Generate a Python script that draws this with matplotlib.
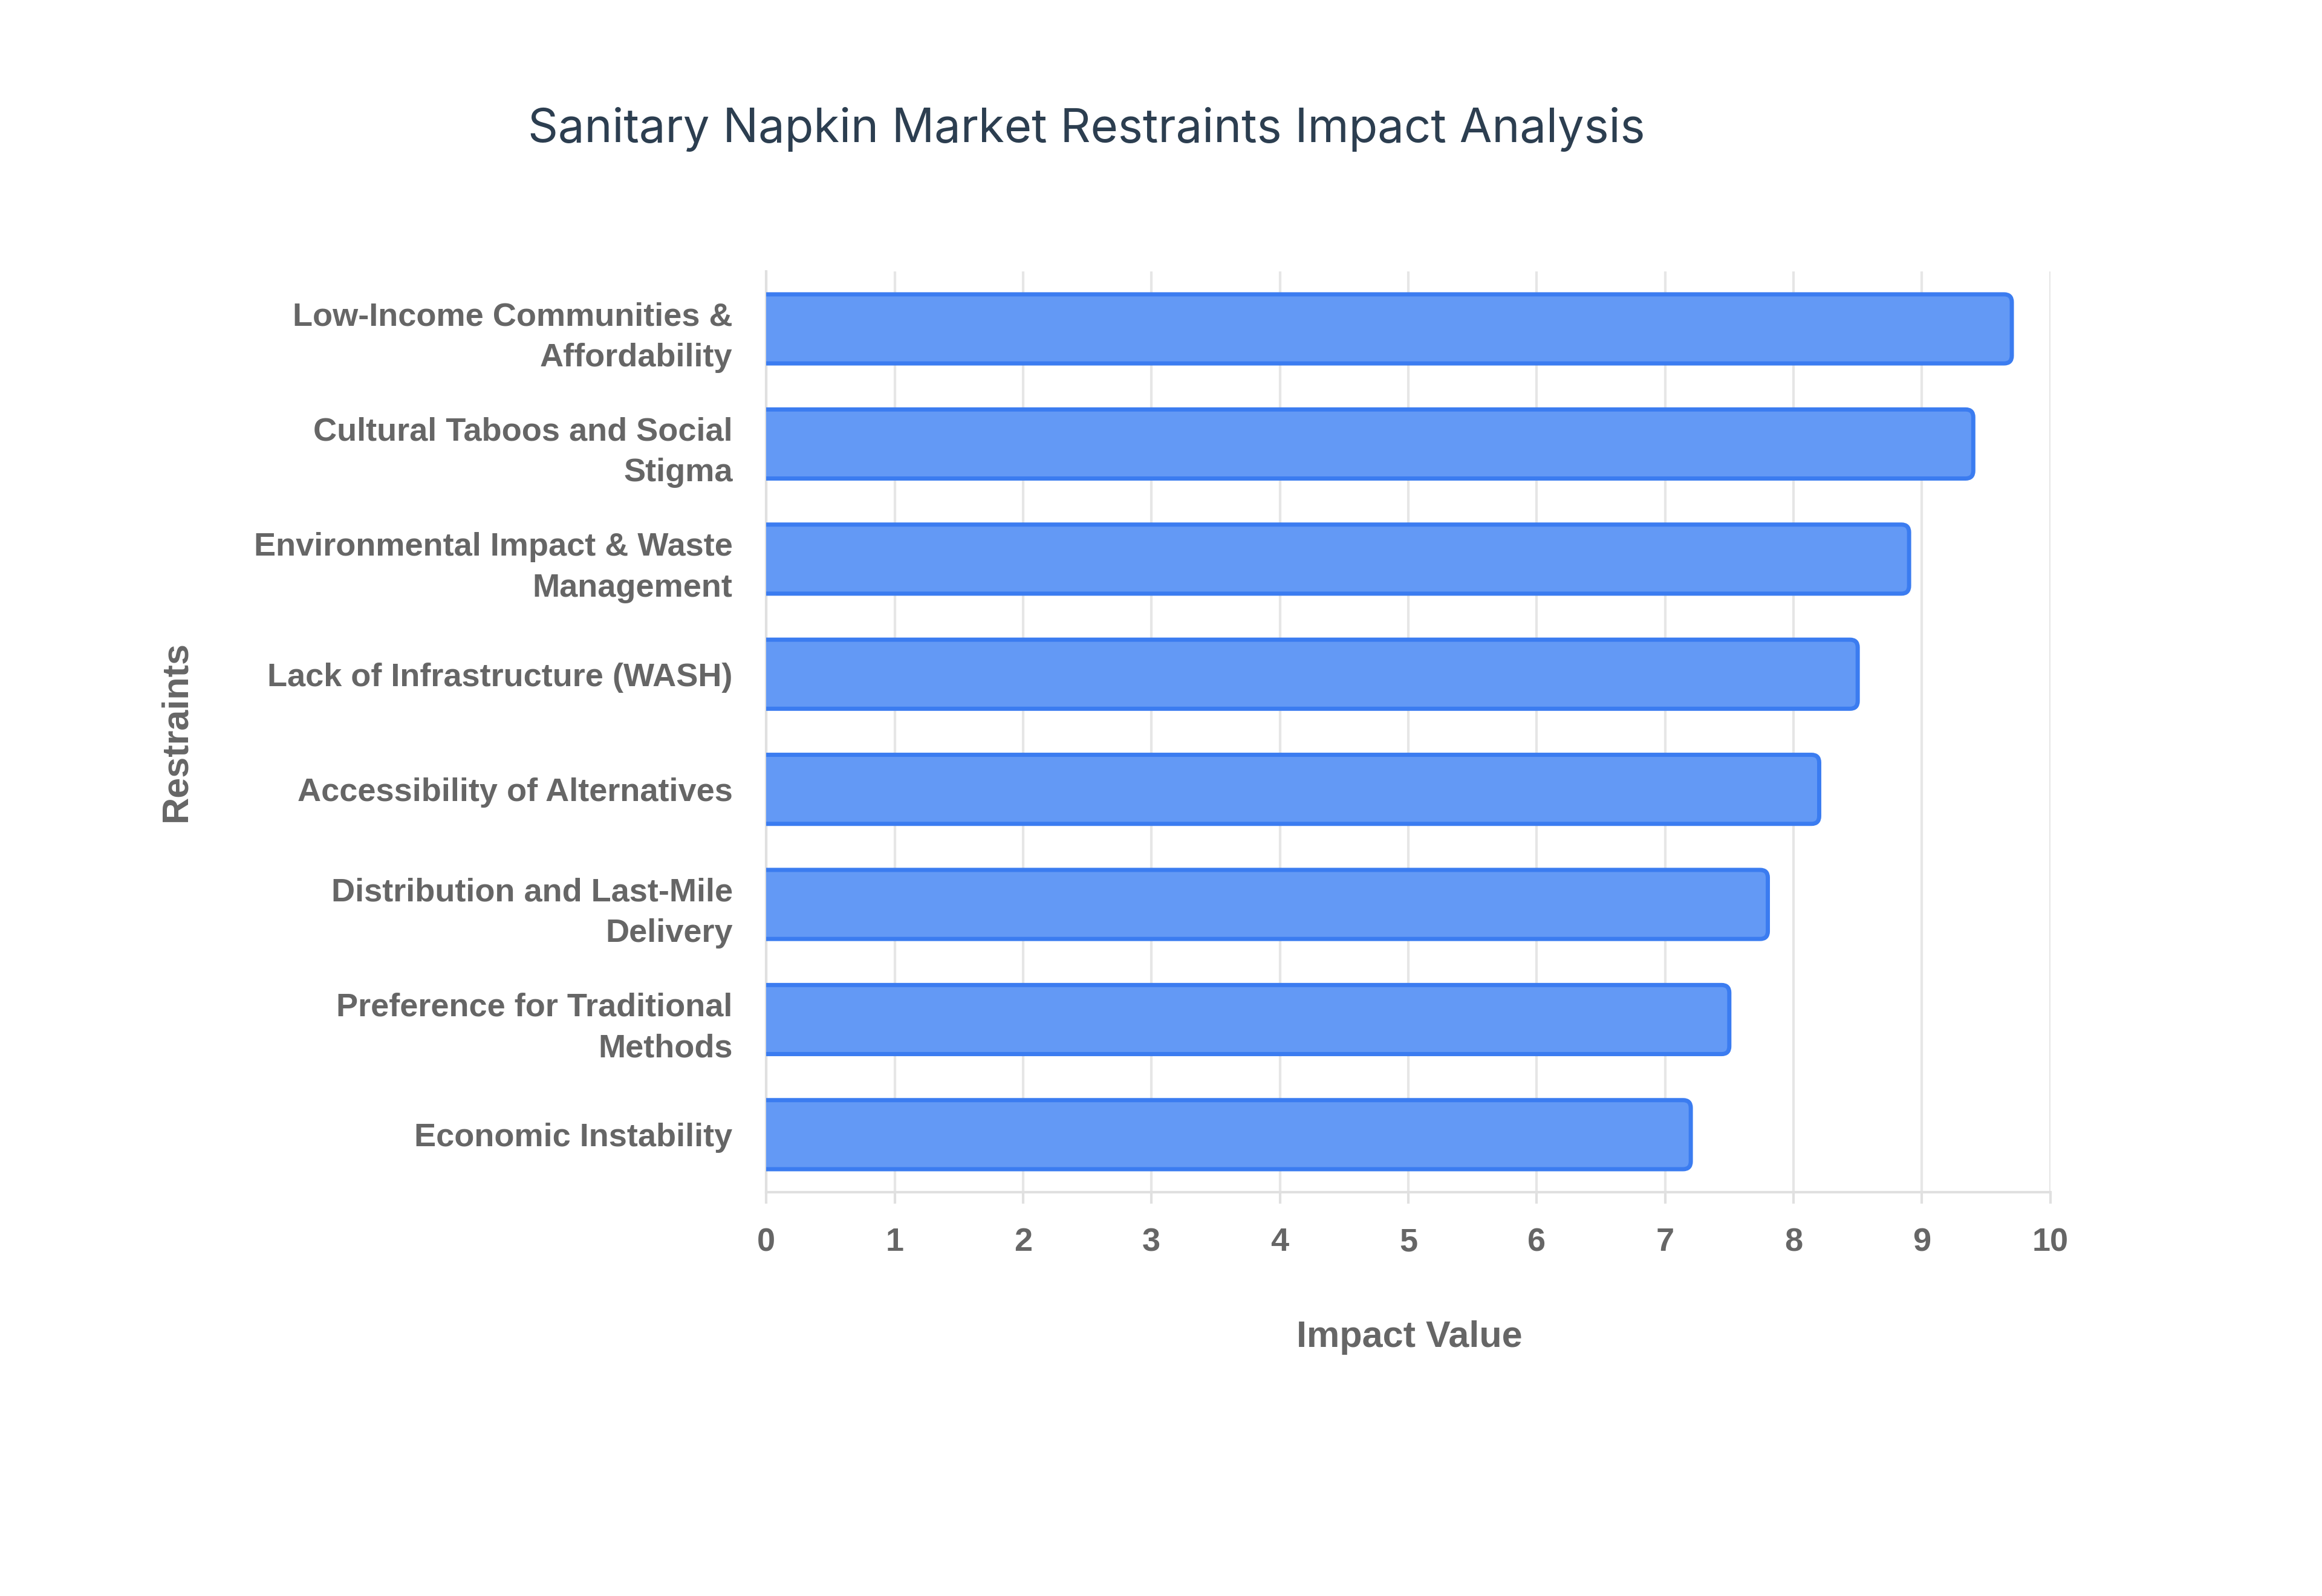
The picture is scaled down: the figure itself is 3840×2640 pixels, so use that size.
import matplotlib.pyplot as plt
from matplotlib.patches import FancyBboxPatch

restraints = [
    "Low-Income Communities &\nAffordability",
    "Cultural Taboos and Social\nStigma",
    "Environmental Impact & Waste\nManagement",
    "Lack of Infrastructure (WASH)",
    "Accessibility of Alternatives",
    "Distribution and Last-Mile\nDelivery",
    "Preference for Traditional\nMethods",
    "Economic Instability",
]
impact = [9.7, 9.4, 8.9, 8.5, 8.2, 7.8, 7.5, 7.2]
xticks = list(range(0, 11))

fig = plt.figure(figsize=(19.2, 13.2), dpi=200)
ax = fig.add_axes([0.330, 0.253, 0.553, 0.577])

ypos = list(range(len(restraints)))
bars = ax.barh(ypos, impact, height=0.6, color="#6399f5", edgecolor="#3b7cf0",
               linewidth=2.5, zorder=3)

# swap plain rectangles for ones with rounded ends
r = 0.06
for b in bars:
    x, y = b.get_x(), b.get_y()
    w, h = b.get_width(), b.get_height()
    b.set_visible(False)
    p = FancyBboxPatch((x - r, y), w + r, h,
                       boxstyle=f"round,pad=0,rounding_size={r}",
                       mutation_aspect=1.12, facecolor="#6399f5",
                       edgecolor="#3b7cf0", linewidth=2.5, zorder=3)
    ax.add_patch(p)

ax.set_ylim(len(restraints) - 0.5, -0.5)
ax.set_xlim(0, 10)
ax.set_xticks(xticks)
ax.set_yticks(ypos)
ax.set_yticklabels(restraints, fontsize=19.5, fontweight="bold", color="#666666",
                   family="Liberation Sans", linespacing=1.45)
for lbl in ax.get_xticklabels():
    lbl.set_fontsize(19.5)
    lbl.set_fontweight("bold")
    lbl.set_color("#666666")
    lbl.set_family("Liberation Sans")

ax.grid(axis="x", color="#e6e6e6", linewidth=1.5, zorder=0)
ax.tick_params(axis="x", length=7, width=1.5, color="#e0e0e0", pad=14)
ax.tick_params(axis="y", length=0, pad=20)
for s in ["top", "right"]:
    ax.spines[s].set_visible(False)
ax.spines["left"].set_color("#e0e0e0")
ax.spines["bottom"].set_color("#e0e0e0")
ax.spines["left"].set_linewidth(1.5)
ax.spines["bottom"].set_linewidth(1.5)

fig.text(0.468, 0.919, "Sanitary Napkin Market Restraints Impact Analysis",
         ha="center", va="center", fontsize=28, color="#2c3e50", family="Inter")
fig.text(0.607, 0.162, "Impact Value", ha="center", va="center", fontsize=22,
         fontweight="bold", color="#666666", family="Liberation Sans")
fig.text(0.076, 0.542, "Restraints", ha="center", va="center", rotation=90,
         fontsize=22, fontweight="bold", color="#666666", family="Liberation Sans")

fig.savefig("out.png", dpi=200, facecolor="white")
